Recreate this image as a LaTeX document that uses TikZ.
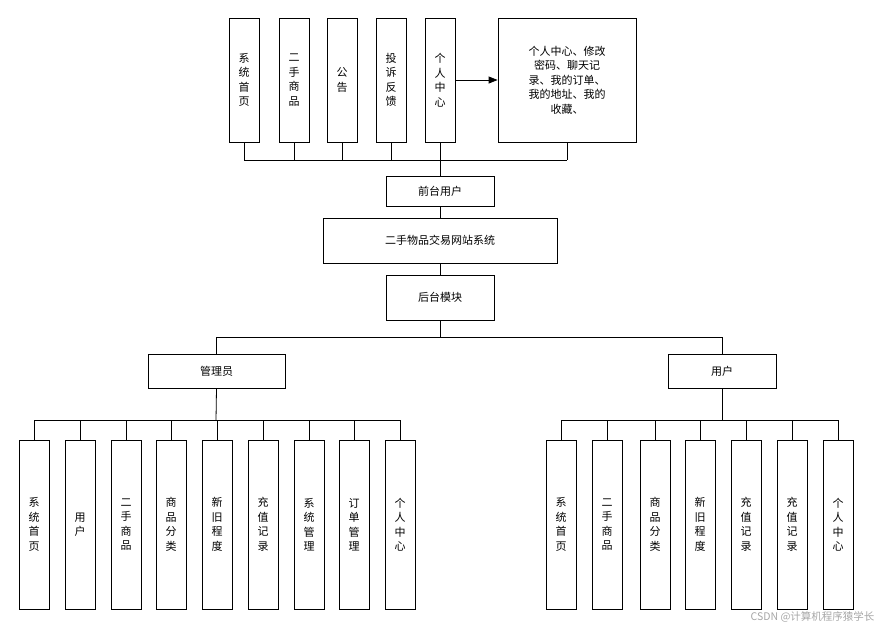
\documentclass[tikz,border=0pt]{standalone}
\usepackage{fontspec}
\newfontfamily\cjk{Noto Sans CJK SC}
\usetikzlibrary{arrows.meta}
\begin{document}
\begin{tikzpicture}[x=1pt,y=-1pt,font=\cjk\fontsize{11}{14.5}\selectfont,
  box/.style={draw,thick,inner sep=0pt,align=center},
  ln/.style={thick}]
\useasboundingbox (0,0) rectangle (882,632);
% top
\foreach \n/\x/\t in {t1/244/系\\统\\首\\页, t2/294/二\\手\\商\\品, t3/342/公\\告, t4/391/投\\诉\\反\\馈, t5/440/个\\人\\中\\心}
  \node[box,minimum width=30,minimum height=124] (\n) at (\x,80) {\t};
\node[box,minimum width=138,minimum height=124] (big) at (567,80) {个人中心、修改\\密码、聊天记\\录、我的订单、\\我的地址、我的\\收藏、};
\draw[ln,-{Triangle[length=9pt,width=7pt]}] (t5.east) -- (big.west);
\node[box,minimum width=108,minimum height=30] (fq) at (440,191) {前台用户};
\node[box,minimum width=234,minimum height=45] (sys) at (440,240.5) {二手物品交易网站系统};
\node[box,minimum width=108,minimum height=45] (ht) at (440,297.5) {后台模块};
\coordinate (tb) at (440,160);
\foreach \n in {t1,t2,t3,t4,t5,big} \draw[ln] (\n.south) -- (\n.south |- tb);
\draw[ln] (t1.south |- tb) -- (big.south |- tb);
\draw[ln] (tb) -- (fq.north);
\draw[ln] (fq.south) -- (sys.north);
\draw[ln] (sys.south) -- (ht.north);
% admin / user
\node[box,minimum width=137,minimum height=34] (adm) at (216.5,371) {管理员};
\node[box,minimum width=108,minimum height=34] (usr) at (722,371) {用户};
\coordinate (hb) at (440,337);
\draw[ln] (ht.south) -- (hb);
\draw[ln] (adm.north |- hb) -- (usr.north |- hb);
\draw[ln] (adm.north |- hb) -- (adm.north);
\draw[ln] (usr.north |- hb) -- (usr.north);
\foreach \n/\x/\t in {a1/34/系\\统\\首\\页, a2/80/用\\户, a3/126/二\\手\\商\\品, a4/171/商\\品\\分\\类, a5/217/新\\旧\\程\\度, a6/263/充\\值\\记\\录, a7/309/系\\统\\管\\理, a8/354/订\\单\\管\\理, a9/400/个\\人\\中\\心,
  u1/561/系\\统\\首\\页, u2/607/二\\手\\商\\品, u3/655/商\\品\\分\\类, u4/700/新\\旧\\程\\度, u5/746/充\\值\\记\\录, u6/792/充\\值\\记\\录, u7/838/个\\人\\中\\心}
  \node[box,minimum width=30,minimum height=169] (\n) at (\x,524.5) {\t};
\coordinate (ab) at (216,420);
\draw[ln] (adm.south) -- (ab);
\draw[ln] (a1.north |- ab) -- (a9.north |- ab);
\foreach \n in {a1,a2,a3,a4,a5,a6,a7,a8,a9} \draw[ln] (\n.north |- ab) -- (\n.north);
\coordinate (ub) at (722,420);
\draw[ln] (usr.south) -- (ub);
\draw[ln] (u1.north |- ub) -- (u7.north |- ub);
\foreach \n in {u1,u2,u3,u4,u5,u6,u7} \draw[ln] (\n.north |- ub) -- (\n.north);
\node[anchor=east,text=gray!70,font=\cjk\fontsize{10.5}{12}\selectfont] (wm) at (878,617) {CSDN @计算机程序猿学长};
\end{tikzpicture}
\end{document}
